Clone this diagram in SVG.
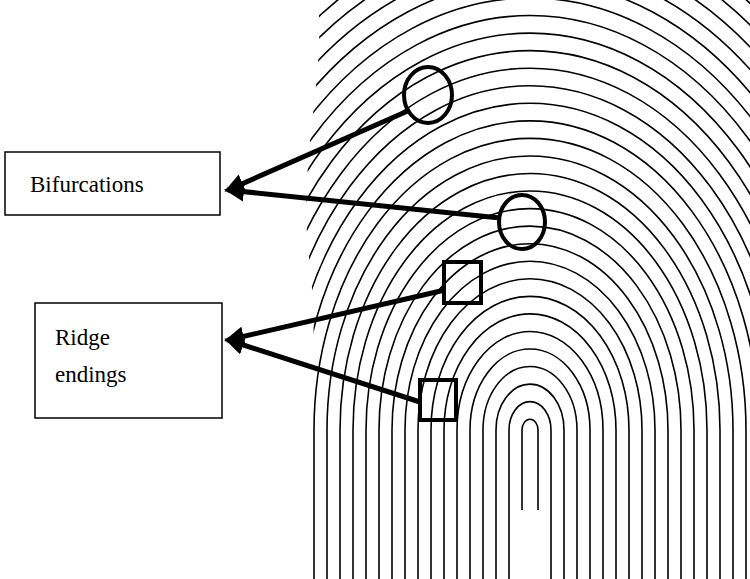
<svg xmlns="http://www.w3.org/2000/svg" width="750" height="579" viewBox="0 0 750 579">
<style>
.r{fill:none;stroke:#000;stroke-width:1.6;vector-effect:non-scaling-stroke}
.m{fill:none;stroke:#000;stroke-width:4}
.b{fill:#fff;stroke:#000;stroke-width:1.5}
.t{font-family:"Liberation Serif",serif;font-size:23px;fill:#000}
.a{stroke:#000;stroke-width:5;fill:none;marker-end:url(#ah)}
</style>
<defs>
<clipPath id="fp"><path d="M318,0 H750 V579 H312 C305,450 322,350 308,250 C300,150 325,80 318,0Z"/></clipPath>
<path id="u" class="r" d="M -1,10 V 0 A 1 1.35 0 0 1 1,0 V 10"/>
<marker id="ah" viewBox="0 0 10 10" refX="8" refY="5" markerWidth="4" markerHeight="4" orient="auto"><path d="M0,0 L10,5 L0,10Z" fill="#000"/></marker>
</defs>
<rect width="750" height="579" fill="#fff"/>
<g id="fingerprint" clip-path="url(#fp)">
<use href="#u" transform="translate(530,430) scale(8)"/>
<use href="#u" transform="translate(530,430) scale(21)"/>
<use href="#u" transform="translate(530,430) scale(34)"/>
<use href="#u" transform="translate(530,430) scale(47)"/>
<use href="#u" transform="translate(530,430) scale(60)"/>
<use href="#u" transform="translate(530,430) scale(73)"/>
<use href="#u" transform="translate(530,430) scale(86)"/>
<use href="#u" transform="translate(530,430) scale(99)"/>
<use href="#u" transform="translate(530,430) scale(112)"/>
<use href="#u" transform="translate(530,430) scale(125)"/>
<use href="#u" transform="translate(530,430) scale(138)"/>
<use href="#u" transform="translate(530,430) scale(151)"/>
<use href="#u" transform="translate(530,430) scale(164)"/>
<use href="#u" transform="translate(530,430) scale(177)"/>
<use href="#u" transform="translate(530,430) scale(190)"/>
<use href="#u" transform="translate(530,430) scale(203)"/>
<use href="#u" transform="translate(530,430) scale(216)"/>
<use href="#u" transform="translate(530,430) scale(229)"/>
<use href="#u" transform="translate(530,430) scale(242)"/>
<use href="#u" transform="translate(530,430) scale(255)"/>
<use href="#u" transform="translate(530,430) scale(268)"/>
<use href="#u" transform="translate(530,430) scale(281)"/>
<use href="#u" transform="translate(530,430) scale(294)"/>
<use href="#u" transform="translate(530,430) scale(307)"/>
<use href="#u" transform="translate(530,430) scale(320)"/>
<use href="#u" transform="translate(530,430) scale(333)"/>
<use href="#u" transform="translate(530,430) scale(346)"/>
<use href="#u" transform="translate(530,430) scale(359)"/>
<use href="#u" transform="translate(530,430) scale(372)"/>
<use href="#u" transform="translate(530,430) scale(385)"/>
<use href="#u" transform="translate(530,430) scale(398)"/>
<use href="#u" transform="translate(530,430) scale(411)"/>
</g>
<g id="markers">
<ellipse class="m" cx="428" cy="95" rx="24" ry="28"/>
<ellipse class="m" cx="522" cy="222" rx="23" ry="27"/>
<rect class="m" x="444" y="262" width="37" height="41"/>
<rect class="m" x="420" y="380" width="36" height="40"/>
</g>
<g id="connectors">
<line class="a" x1="410" y1="110" x2="228" y2="190"/>
<line class="a" x1="500" y1="218" x2="228" y2="190"/>
<line class="a" x1="445" y1="290" x2="228" y2="340"/>
<line class="a" x1="420" y1="402" x2="228" y2="340"/>
</g>
<g id="bifurcations">
<rect class="b" x="5" y="152" width="215" height="63"/>
<text class="t" x="30" y="192">Bifurcations</text>
</g>
<g id="ridge-endings">
<rect class="b" x="35" y="303" width="187" height="115"/>
<text class="t" x="55" y="345">Ridge</text>
<text class="t" x="55" y="382">endings</text>
</g>
</svg>
